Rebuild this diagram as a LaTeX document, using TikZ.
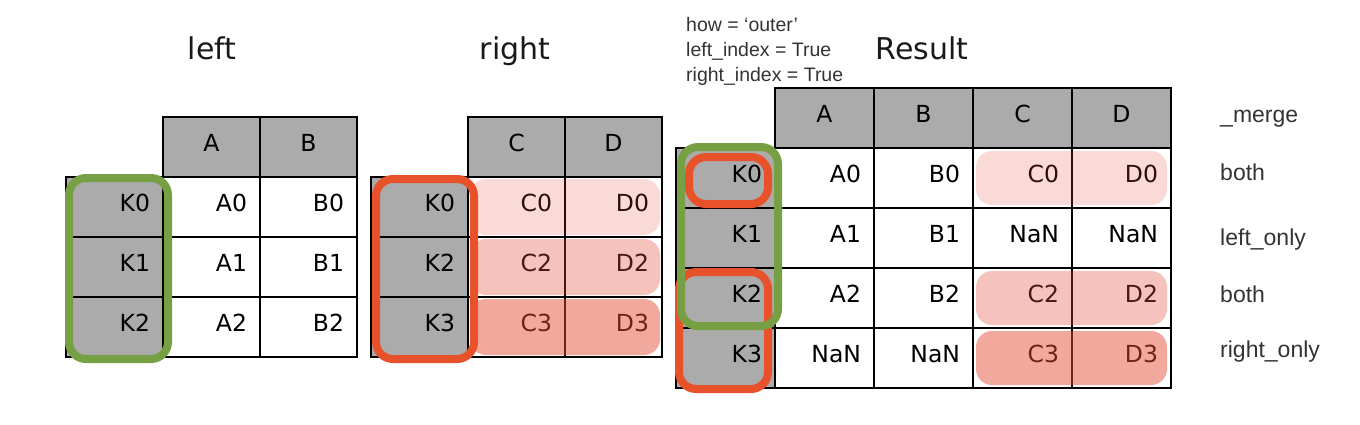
\documentclass[tikz,border=0pt]{standalone}
\usepackage{fontspec}
\setmainfont{DejaVu Sans}
\newfontfamily\notefont{Liberation Sans}
\definecolor{keygray}{HTML}{ABABAB}
\definecolor{keygreen}{HTML}{76A043}
\definecolor{keyred}{HTML}{E8522B}
\definecolor{shadered}{HTML}{E34A33}
\tikzstyle{head cell}=[draw=black, fill=keygray, line width=2.8pt, inner xsep=13pt,
        inner ysep=0pt, minimum height=60pt, text width=71pt, align=center,
        text depth=9pt, font=\fontsize{23.5}{27}\selectfont]
\tikzstyle{key cell}=[style=head cell, align=right]
\tikzstyle{value cell}=[style=head cell, fill=white, align=right]
\tikzstyle{wide}=[text width=73pt]
\tikzstyle{title}=[anchor=base, font=\fontsize{30}{34}\selectfont, text=black!90]
\tikzstyle{note}=[anchor=base west, inner sep=0pt, text=black!80,
        font=\notefont\fontsize{19.5}{22}\selectfont]
\tikzstyle{merge label}=[style=note, font=\notefont\fontsize{23}{26}\selectfont]
\tikzstyle{shade 0}=[fill=shadered, fill opacity=0.2, rounded corners=16pt]
\tikzstyle{shade 1}=[fill=shadered, fill opacity=0.33, rounded corners=16pt]
\tikzstyle{shade 2}=[fill=shadered, fill opacity=0.48, rounded corners=16pt]
\tikzstyle{green box}=[draw=keygreen, line width=8pt, rounded corners=17pt]
\tikzstyle{red box}=[draw=keyred, line width=8pt, rounded corners=17pt]

\begin{document}
\begin{tikzpicture}[x=1pt, y=-1pt]
    \useasboundingbox (0,0) rectangle (1360,424);

    % left
    \node [style=title] (50) at (212, 59) {left};
    \node [style=head cell] (0) at (211.5, 147) {A};
    \node [style=head cell] (1) at (308.5, 147) {B};
    \node [style=key cell] (2) at (114.5, 207) {K0};
    \node [style=key cell] (3) at (114.5, 267) {K1};
    \node [style=key cell] (4) at (114.5, 327) {K2};
    \node [style=value cell] (5) at (211.5, 207) {A0};
    \node [style=value cell] (6) at (308.5, 207) {B0};
    \node [style=value cell] (7) at (211.5, 267) {A1};
    \node [style=value cell] (8) at (308.5, 267) {B1};
    \node [style=value cell] (9) at (211.5, 327) {A2};
    \node [style=value cell] (10) at (308.5, 327) {B2};

    % right
    \node [style=title] (51) at (515, 59) {right};
    \node [style=head cell] (11) at (516.5, 147) {C};
    \node [style=head cell] (12) at (613.5, 147) {D};
    \node [style=key cell] (13) at (419.5, 207) {K0};
    \node [style=key cell] (14) at (419.5, 267) {K2};
    \node [style=key cell] (15) at (419.5, 327) {K3};
    \node [style=value cell] (16) at (516.5, 207) {C0};
    \node [style=value cell] (17) at (613.5, 207) {D0};
    \node [style=value cell] (18) at (516.5, 267) {C2};
    \node [style=value cell] (19) at (613.5, 267) {D2};
    \node [style=value cell] (20) at (516.5, 327) {C3};
    \node [style=value cell] (21) at (613.5, 327) {D3};

    \fill [style=shade 0] (470, 179) rectangle (660, 235);
    \fill [style=shade 1] (470, 239) rectangle (660, 295);
    \fill [style=shade 2] (470, 299) rectangle (660, 355);

    % result
    \node [style=title] (52) at (922, 59) {Result};
    \node [style=note] (53) at (686, 31) {how = ‘outer’};
    \node [style=note] (54) at (686, 56) {left\_index = True};
    \node [style=note] (55) at (686, 81) {right\_index = True};

    \node [style=head cell, style=wide] (22) at (824.5, 118) {A};
    \node [style=head cell, style=wide] (23) at (923.5, 118) {B};
    \node [style=head cell, style=wide] (24) at (1022.5, 118) {C};
    \node [style=head cell, style=wide] (25) at (1121.5, 118) {D};
    \node [style=key cell, style=wide] (26) at (725.5, 178) {K0};
    \node [style=key cell, style=wide] (27) at (725.5, 238) {K1};
    \node [style=key cell, style=wide] (28) at (725.5, 298) {K2};
    \node [style=key cell, style=wide] (29) at (725.5, 358) {K3};
    \node [style=value cell, style=wide] (30) at (824.5, 178) {A0};
    \node [style=value cell, style=wide] (31) at (923.5, 178) {B0};
    \node [style=value cell, style=wide] (32) at (1022.5, 178) {C0};
    \node [style=value cell, style=wide] (33) at (1121.5, 178) {D0};
    \node [style=value cell, style=wide] (34) at (824.5, 238) {A1};
    \node [style=value cell, style=wide] (35) at (923.5, 238) {B1};
    \node [style=value cell, style=wide] (36) at (1022.5, 238) {NaN};
    \node [style=value cell, style=wide] (37) at (1121.5, 238) {NaN};
    \node [style=value cell, style=wide] (38) at (824.5, 298) {A2};
    \node [style=value cell, style=wide] (39) at (923.5, 298) {B2};
    \node [style=value cell, style=wide] (40) at (1022.5, 298) {C2};
    \node [style=value cell, style=wide] (41) at (1121.5, 298) {D2};
    \node [style=value cell, style=wide] (42) at (824.5, 358) {NaN};
    \node [style=value cell, style=wide] (43) at (923.5, 358) {NaN};
    \node [style=value cell, style=wide] (44) at (1022.5, 358) {C3};
    \node [style=value cell, style=wide] (45) at (1121.5, 358) {D3};

    \fill [style=shade 0] (976, 151) rectangle (1167, 205);
    \fill [style=shade 1] (976, 271) rectangle (1167, 325);
    \fill [style=shade 2] (976, 331) rectangle (1167, 385);

    \node [style=merge label] (56) at (1220, 122) {\_merge};
    \node [style=merge label] (57) at (1220, 180) {both};
    \node [style=merge label] (58) at (1220, 245) {left\_only};
    \node [style=merge label] (59) at (1220, 302) {both};
    \node [style=merge label] (60) at (1220, 357) {right\_only};

    % key boxes
    \draw [style=green box] (69, 178) rectangle (168, 359);
    \draw [style=red box] (376, 179) rectangle (474, 359);
    \draw [style=red box] (689, 157) rectangle (768, 204);
    \draw [style=red box] (679, 272) rectangle (768, 389);
    \draw [style=green box] (681, 147) rectangle (778, 326);
\end{tikzpicture}
\end{document}
